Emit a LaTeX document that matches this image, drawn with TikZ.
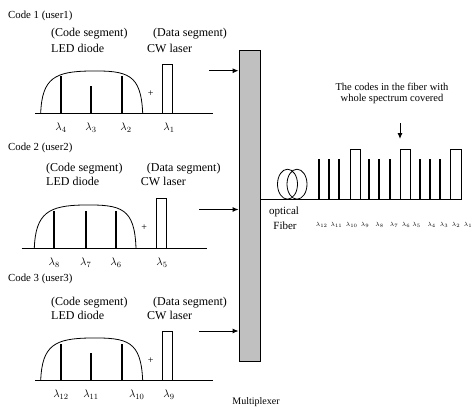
\documentclass[tikz,border=0pt]{standalone}
\usepackage{fontspec}
\setmainfont{Liberation Serif}
\usetikzlibrary{arrows.meta}
\definecolor{muxgray}{RGB}{192,192,192}
\begin{document}
\begin{tikzpicture}[x=1pt,y=-1pt,
  thinline/.style={line width=0.8pt},
  codeline/.style={line width=2.2pt},
  lbl/.style={inner sep=0pt, font=\fontsize{12}{14}\selectfont, anchor=west},
  codelbl/.style={inner sep=0pt, font=\fontsize{10.8}{12}\selectfont, anchor=west},
  lam/.style={inner sep=0pt, font=\fontsize{11}{13}\selectfont},
  smalllam/.style={inner sep=0pt, font=\fontsize{6.5}{8}\selectfont},
  note/.style={inner sep=0pt, font=\fontsize{10.5}{12}\selectfont},
  inarrow/.style={line width=1pt, -{Latex[length=6pt,width=5pt]}},
  pulse/.style={draw, line width=0.8pt, fill=white}
]
\useasboundingbox (0,0) rectangle (474,410);

% ---------- Code 1 ----------
\node[codelbl] (c1) at (8,16) {Code 1 (user1)};
\node[lbl] (cs1) at (51,34) {(Code segment)};
\node[lbl] (led1) at (51,48) {LED diode};
\node[lbl] (ds1) at (153,34) {(Data segment)};
\node[lbl] (cw1) at (147,48) {CW laser};
\draw[thinline] (35,113.3) -- (213,113.3);
\draw[thinline] (40.7,113.3) .. controls (42,78) and (55,71.5) .. (90,71) .. controls (128,70.5) and (141,74) .. (142.7,113.3);
\draw[codeline] (61,113.3) -- (61,76);
\draw[codeline] (91,113.3) -- (91,86);
\draw[codeline] (121.7,113.3) -- (121.7,76);
\node[inner sep=0pt] (plus1) at (150.7,94) {+};
\draw[pulse] (162,113.3) rectangle (172,64);
\node[lam] (l4) at (61,128) {$\lambda_{4}$};
\node[lam] (l3) at (91,128) {$\lambda_{3}$};
\node[lam] (l2) at (126,128) {$\lambda_{2}$};
\node[lam] (l1) at (169,128) {$\lambda_{1}$};

% ---------- Code 2 ----------
\node[codelbl] (c2) at (8,147.5) {Code 2 (user2)};
\node[lbl] (cs2) at (46,168.3) {(Code segment)};
\node[lbl] (led2) at (46,181.7) {LED diode};
\node[lbl] (ds2) at (146.7,168.3) {(Data segment)};
\node[lbl] (cw2) at (140.7,181.7) {CW laser};
\draw[thinline] (21.7,248.3) -- (206.7,248.3);
\draw[thinline] (34.3,248.3) .. controls (35.6,213) and (48.6,205.5) .. (83.6,205) .. controls (121.6,204.5) and (134.6,208) .. (136,248.3);
\draw[codeline] (54.3,248.3) -- (54.3,211);
\draw[codeline] (85.7,248.3) -- (85.7,211);
\draw[codeline] (116,248.3) -- (116,211);
\node[inner sep=0pt] (plus2) at (144.3,227.7) {+};
\draw[pulse] (156.7,248.3) rectangle (166,198.3);
\node[lam] (l8) at (54.3,263) {$\lambda_{8}$};
\node[lam] (l7) at (85.7,263) {$\lambda_{7}$};
\node[lam] (l6) at (116,263) {$\lambda_{6}$};
\node[lam] (l5) at (162,263) {$\lambda_{5}$};

% ---------- Code 3 ----------
\node[codelbl] (c3) at (8,278.5) {Code 3 (user3)};
\node[lbl] (cs3) at (51,302.3) {(Code segment)};
\node[lbl] (led3) at (51,315.7) {LED diode};
\node[lbl] (ds3) at (153,302.3) {(Data segment)};
\node[lbl] (cw3) at (147,315.7) {CW laser};
\draw[thinline] (35,380.7) -- (213,380.7);
\draw[thinline] (40.7,380.7) .. controls (42,345) and (55,338.5) .. (90,338) .. controls (128,337.5) and (141,341) .. (142.7,380.7);
\draw[codeline] (61,380.7) -- (61,344.3);
\draw[codeline] (91,380.7) -- (91,353);
\draw[codeline] (121.7,380.7) -- (121.7,344);
\node[inner sep=0pt] (plus3) at (150.7,360.7) {+};
\draw[pulse] (162,380.7) rectangle (172,331.7);
\node[lam] (l12) at (61,395) {$\lambda_{12}$};
\node[lam] (l11) at (91,395) {$\lambda_{11}$};
\node[lam] (l10) at (136.7,395) {$\lambda_{10}$};
\node[lam] (l9) at (169,395) {$\lambda_{9}$};

% ---------- Multiplexer ----------
\node[draw, line width=0.8pt, fill=muxgray, minimum width=21, minimum height=311, inner sep=0pt] (mux) at (249.5,205.5) {};
\node[inner sep=0pt, font=\fontsize{10}{12}\selectfont] (muxlbl) at (256,402) {Multiplexer};
\coordinate (a1) at (209,70.7);
\coordinate (a2) at (199,209.5);
\coordinate (a3) at (199,331);
\draw[inarrow] (a1) -- (a1 -| mux.west);
\draw[inarrow] (a2) -- (a2 -| mux.west);
\draw[inarrow] (a3) -- (a3 -| mux.west);

% ---------- Fiber ----------
\coordinate (fend) at (461,199.3);
\draw[thinline] (mux.east |- fend) -- (fend);
\draw[thinline] (287.5,184.2) ellipse [x radius=10, y radius=15];
\draw[thinline] (297,184.2) ellipse [x radius=10, y radius=15];
\node[inner sep=0pt, font=\fontsize{11}{13}\selectfont] (opt) at (284,211.7) {optical};
\node[inner sep=0pt, font=\fontsize{11}{13}\selectfont] (fib) at (285,225.7) {Fiber};

% ---------- Spectrum in fiber ----------
\foreach \x in {319.3,329.3,339.3,369.3,379.3,390,420,430,440}
  \draw[codeline] (\x,199.3) -- (\x,159.3);
\draw[pulse] (350,199.3) rectangle (360.7,149.3);
\draw[pulse] (400.7,199.3) rectangle (410.7,149.3);
\draw[pulse] (450.7,199.3) rectangle (461,149.3);

\node[note] (t1) at (392,86.7) {The codes in the fiber with};
\node[note] (t2) at (392,99.3) {whole spectrum covered};
\coordinate (dtop) at (400,123.3);
\coordinate (dbot) at (400,139);
\draw[inarrow] (dtop) -- (dbot);

\foreach \x/\s in {321.7/12,336.5/11,351.7/10,365/9,379.5/8,394/7,406/6,416.5/5,431.7/4,444/3,456/2,468/1}
  \node[smalllam] at (\x,225) {$\lambda_{\s}$};
\end{tikzpicture}
\end{document}
